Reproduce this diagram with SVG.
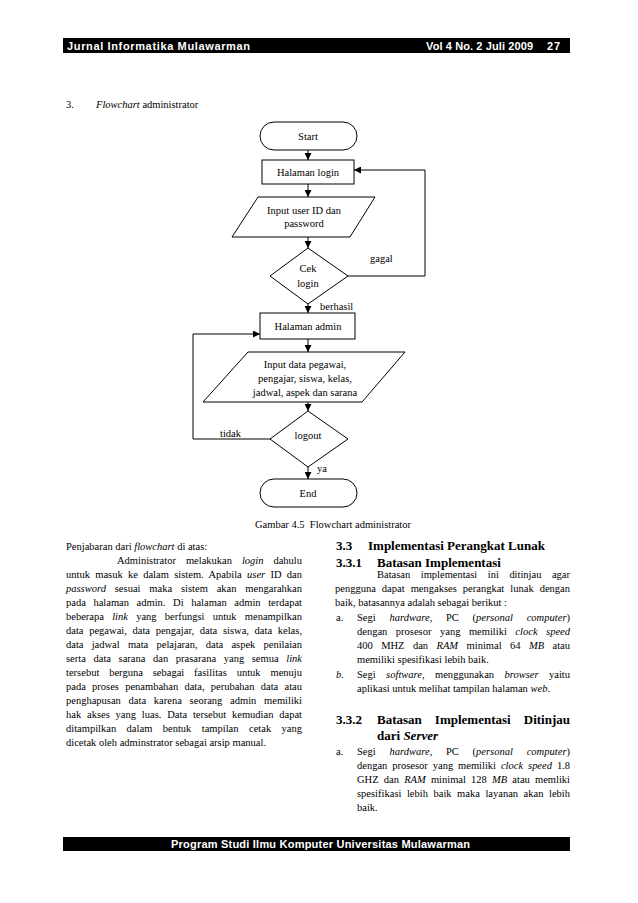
<svg xmlns="http://www.w3.org/2000/svg" width="638" height="903" viewBox="0 0 638 903">
<style>
.bar{fill:#000}
.bt{font-family:"Liberation Sans",Arial,sans-serif;font-weight:bold;font-size:11px;fill:#fff}
.t{font-family:"Liberation Serif","Times New Roman",serif;font-size:10.5px;fill:#000}
.fc{font-family:"Liberation Serif","Times New Roman",serif;font-size:10.5px;fill:#000;text-anchor:middle}
.h{font-family:"Liberation Serif","Times New Roman",serif;font-size:13px;font-weight:bold;fill:#000}
.i{font-style:italic}
.shape{fill:#fff;stroke:#000;stroke-width:1}
.ln{fill:none;stroke:#000;stroke-width:1}
</style>
<defs>
<marker id="ah" viewBox="0 0 10 10" refX="10" refY="5" markerWidth="7" markerHeight="7" markerUnits="userSpaceOnUse" orient="auto">
<path d="M0,0 L10,5 L0,10 z" fill="#000"/>
</marker>
</defs>
<rect width="638" height="903" fill="#fff"/>
<g id="header">
<rect class="bar" x="63" y="38" width="507" height="15"/>
<text class="bt" x="67" y="50" textLength="183">Jurnal Informatika Mulawarman</text>
<text class="bt" x="426" y="50" textLength="107">Vol 4 No. 2 Juli 2009</text>
<text class="bt" x="547" y="50" textLength="13">27</text>
</g>
<text class="t" x="66" y="108">3.</text>
<text class="t" x="96" y="108"><tspan class="i">Flowchart</tspan> administrator</text>
<g id="connectors">
<line class="ln" x1="308" y1="150" x2="308" y2="160" marker-end="url(#ah)"/>
<line class="ln" x1="308" y1="184" x2="308" y2="197" marker-end="url(#ah)"/>
<line class="ln" x1="308" y1="237" x2="308" y2="248" marker-end="url(#ah)"/>
<polyline class="ln" points="348,276 425,276 425,170 354,170" marker-end="url(#ah)"/>
<line class="ln" x1="308" y1="304" x2="308" y2="313" marker-end="url(#ah)"/>
<line class="ln" x1="308" y1="339" x2="308" y2="352" marker-end="url(#ah)"/>
<line class="ln" x1="308" y1="402" x2="308" y2="411" marker-end="url(#ah)"/>
<polyline class="ln" points="270,439 193,439 193,334 260,334" marker-end="url(#ah)"/>
<line class="ln" x1="308" y1="467" x2="308" y2="479" marker-end="url(#ah)"/>
<text class="t" x="370" y="262">gagal</text>
<text class="t" x="320" y="310">berhasil</text>
<text class="t" x="220" y="437">tidak</text>
<text class="t" x="317" y="472">ya</text>
</g>
<g id="start">
<rect class="shape" x="260" y="122" width="97" height="28" rx="14" ry="14"/>
<text class="fc" x="308" y="140">Start</text>
</g>
<g id="halaman-login">
<rect class="shape" x="262" y="160" width="92" height="24"/>
<text class="fc" x="308" y="176">Halaman login</text>
</g>
<g id="input-user">
<polygon class="shape" points="258,197 375,197 350,237 232,237"/>
<text class="fc" x="304" y="214">Input user ID dan</text>
<text class="fc" x="304" y="227">password</text>
</g>
<g id="cek-login">
<polygon class="shape" points="308,248 348,276 308,304 270,276"/>
<text class="fc" x="308" y="272">Cek</text>
<text class="fc" x="308" y="287">login</text>
</g>
<g id="halaman-admin">
<rect class="shape" x="260" y="313" width="95" height="26"/>
<text class="fc" x="308" y="330">Halaman admin</text>
</g>
<g id="input-data">
<polygon class="shape" points="248,352 405,352 362,402 203,402"/>
<text class="fc" x="305" y="368">Input data pegawai,</text>
<text class="fc" x="305" y="382">pengajar, siswa, kelas,</text>
<text class="fc" x="305" y="396">jadwal, aspek dan sarana</text>
</g>
<g id="logout">
<polygon class="shape" points="308,411 348,439 308,467 270,439"/>
<text class="fc" x="308" y="439">logout</text>
</g>
<g id="end">
<rect class="shape" x="260" y="479" width="97" height="28" rx="14" ry="14"/>
<text class="fc" x="308" y="497">End</text>
</g>
<text class="fc" x="333" y="528">Gambar 4.5&#160; Flowchart administrator</text>
<g id="left-column">
<text class="t" x="66" y="550">Penjabaran dari <tspan class="i">flowchart</tspan> di atas:</text>
<text class="t" x="117" y="564" word-spacing="7.3" textLength="185">Administrator melakukan <tspan class="i">login</tspan> dahulu</text>
<text class="t" x="66" y="578" word-spacing="2.6" textLength="236">untuk masuk ke dalam sistem.  Apabila <tspan class="i">user</tspan> ID dan</text>
<text class="t" x="66" y="592" word-spacing="6.2" textLength="236"><tspan class="i">password</tspan> sesuai maka sistem akan mengarahkan</text>
<text class="t" x="66" y="606" word-spacing="5" textLength="236">pada halaman admin.  Di halaman admin terdapat</text>
<text class="t" x="66" y="620" word-spacing="5.6" textLength="236">beberapa <tspan class="i">link</tspan> yang berfungsi untuk menampilkan</text>
<text class="t" x="66" y="634" word-spacing="3" textLength="236">data pegawai, data pengajar, data siswa, data kelas,</text>
<text class="t" x="66" y="648" word-spacing="5.6" textLength="236">data jadwal mata pelajaran, data aspek penilaian</text>
<text class="t" x="66" y="662" word-spacing="5" textLength="236">serta data sarana dan prasarana yang semua <tspan class="i">link</tspan></text>
<text class="t" x="66" y="676" word-spacing="7.2" textLength="236">tersebut berguna sebagai fasilitas untuk menuju</text>
<text class="t" x="66" y="690" word-spacing="3.6" textLength="236">pada proses penambahan data, perubahan data atau</text>
<text class="t" x="66" y="704" word-spacing="5.1" textLength="236">penghapusan data karena seorang admin memiliki</text>
<text class="t" x="66" y="718" word-spacing="3.2" textLength="236">hak akses yang luas.  Data tersebut kemudian dapat</text>
<text class="t" x="66" y="732" word-spacing="7.8" textLength="236">ditampilkan dalam bentuk tampilan cetak yang</text>
<text class="t" x="66" y="746">dicetak oleh adminstrator sebagai arsip manual.</text>
</g>
<g id="right-column">
<text class="h" x="336" y="550">3.3</text>
<text class="h" x="368" y="550">Implementasi Perangkat Lunak</text>
<text class="h" x="336" y="567">3.3.1</text>
<text class="h" x="377" y="567">Batasan Implementasi</text>
<text class="t" x="377" y="578" word-spacing="7.9" textLength="193">Batasan implementasi ini ditinjau agar</text>
<text class="t" x="335" y="592" word-spacing="3.4" textLength="235">pengguna dapat mengakses perangkat lunak dengan</text>
<text class="t" x="335" y="606">baik, batasannya adalah sebagai berikut :</text>
<text class="t" x="336" y="621">a.</text>
<text class="t" x="357" y="621" word-spacing="11" textLength="213">Segi <tspan class="i">hardware</tspan>, PC (<tspan class="i">personal computer</tspan>)</text>
<text class="t" x="357" y="635" word-spacing="5.9" textLength="213">dengan prosesor yang memiliki <tspan class="i">clock speed</tspan></text>
<text class="t" x="357" y="649" word-spacing="5.8" textLength="213">400 MHZ dan <tspan class="i">RAM</tspan> minimal 64 <tspan class="i">MB</tspan> atau</text>
<text class="t" x="357" y="663">memiliki spesifikasi lebih baik.</text>
<text class="t i" x="336" y="678">b.</text>
<text class="t" x="357" y="678" word-spacing="7.7" textLength="213">Segi <tspan class="i">software</tspan>, menggunakan <tspan class="i">browser</tspan> yaitu</text>
<text class="t" x="357" y="692">aplikasi untuk melihat tampilan halaman <tspan class="i">web</tspan>.</text>
<text class="h" x="336" y="724">3.3.2</text>
<text class="h" x="377" y="724" word-spacing="9.8" textLength="193">Batasan Implementasi Ditinjau</text>
<text class="h" x="377" y="740">dari <tspan class="i">Server</tspan></text>
<text class="t" x="336" y="755">a.</text>
<text class="t" x="357" y="755" word-spacing="11" textLength="213">Segi <tspan class="i">hardware</tspan>, PC (<tspan class="i">personal computer</tspan>)</text>
<text class="t" x="357" y="769" word-spacing="2.3" textLength="213">dengan prosesor yang memiliki <tspan class="i">clock speed</tspan> 1.8</text>
<text class="t" x="357" y="783" word-spacing="2.6" textLength="213">GHZ dan <tspan class="i">RAM</tspan> minimal 128 <tspan class="i">MB</tspan> atau memliki</text>
<text class="t" x="357" y="797" word-spacing="2.9" textLength="213">spesifikasi lebih baik maka layanan akan lebih</text>
<text class="t" x="357" y="811">baik.</text>
</g>
<g id="footer">
<rect class="bar" x="63" y="837" width="507" height="14"/>
<text class="bt" x="171" y="848" textLength="299">Program Studi Ilmu Komputer Universitas Mulawarman</text>
</g>
</svg>
